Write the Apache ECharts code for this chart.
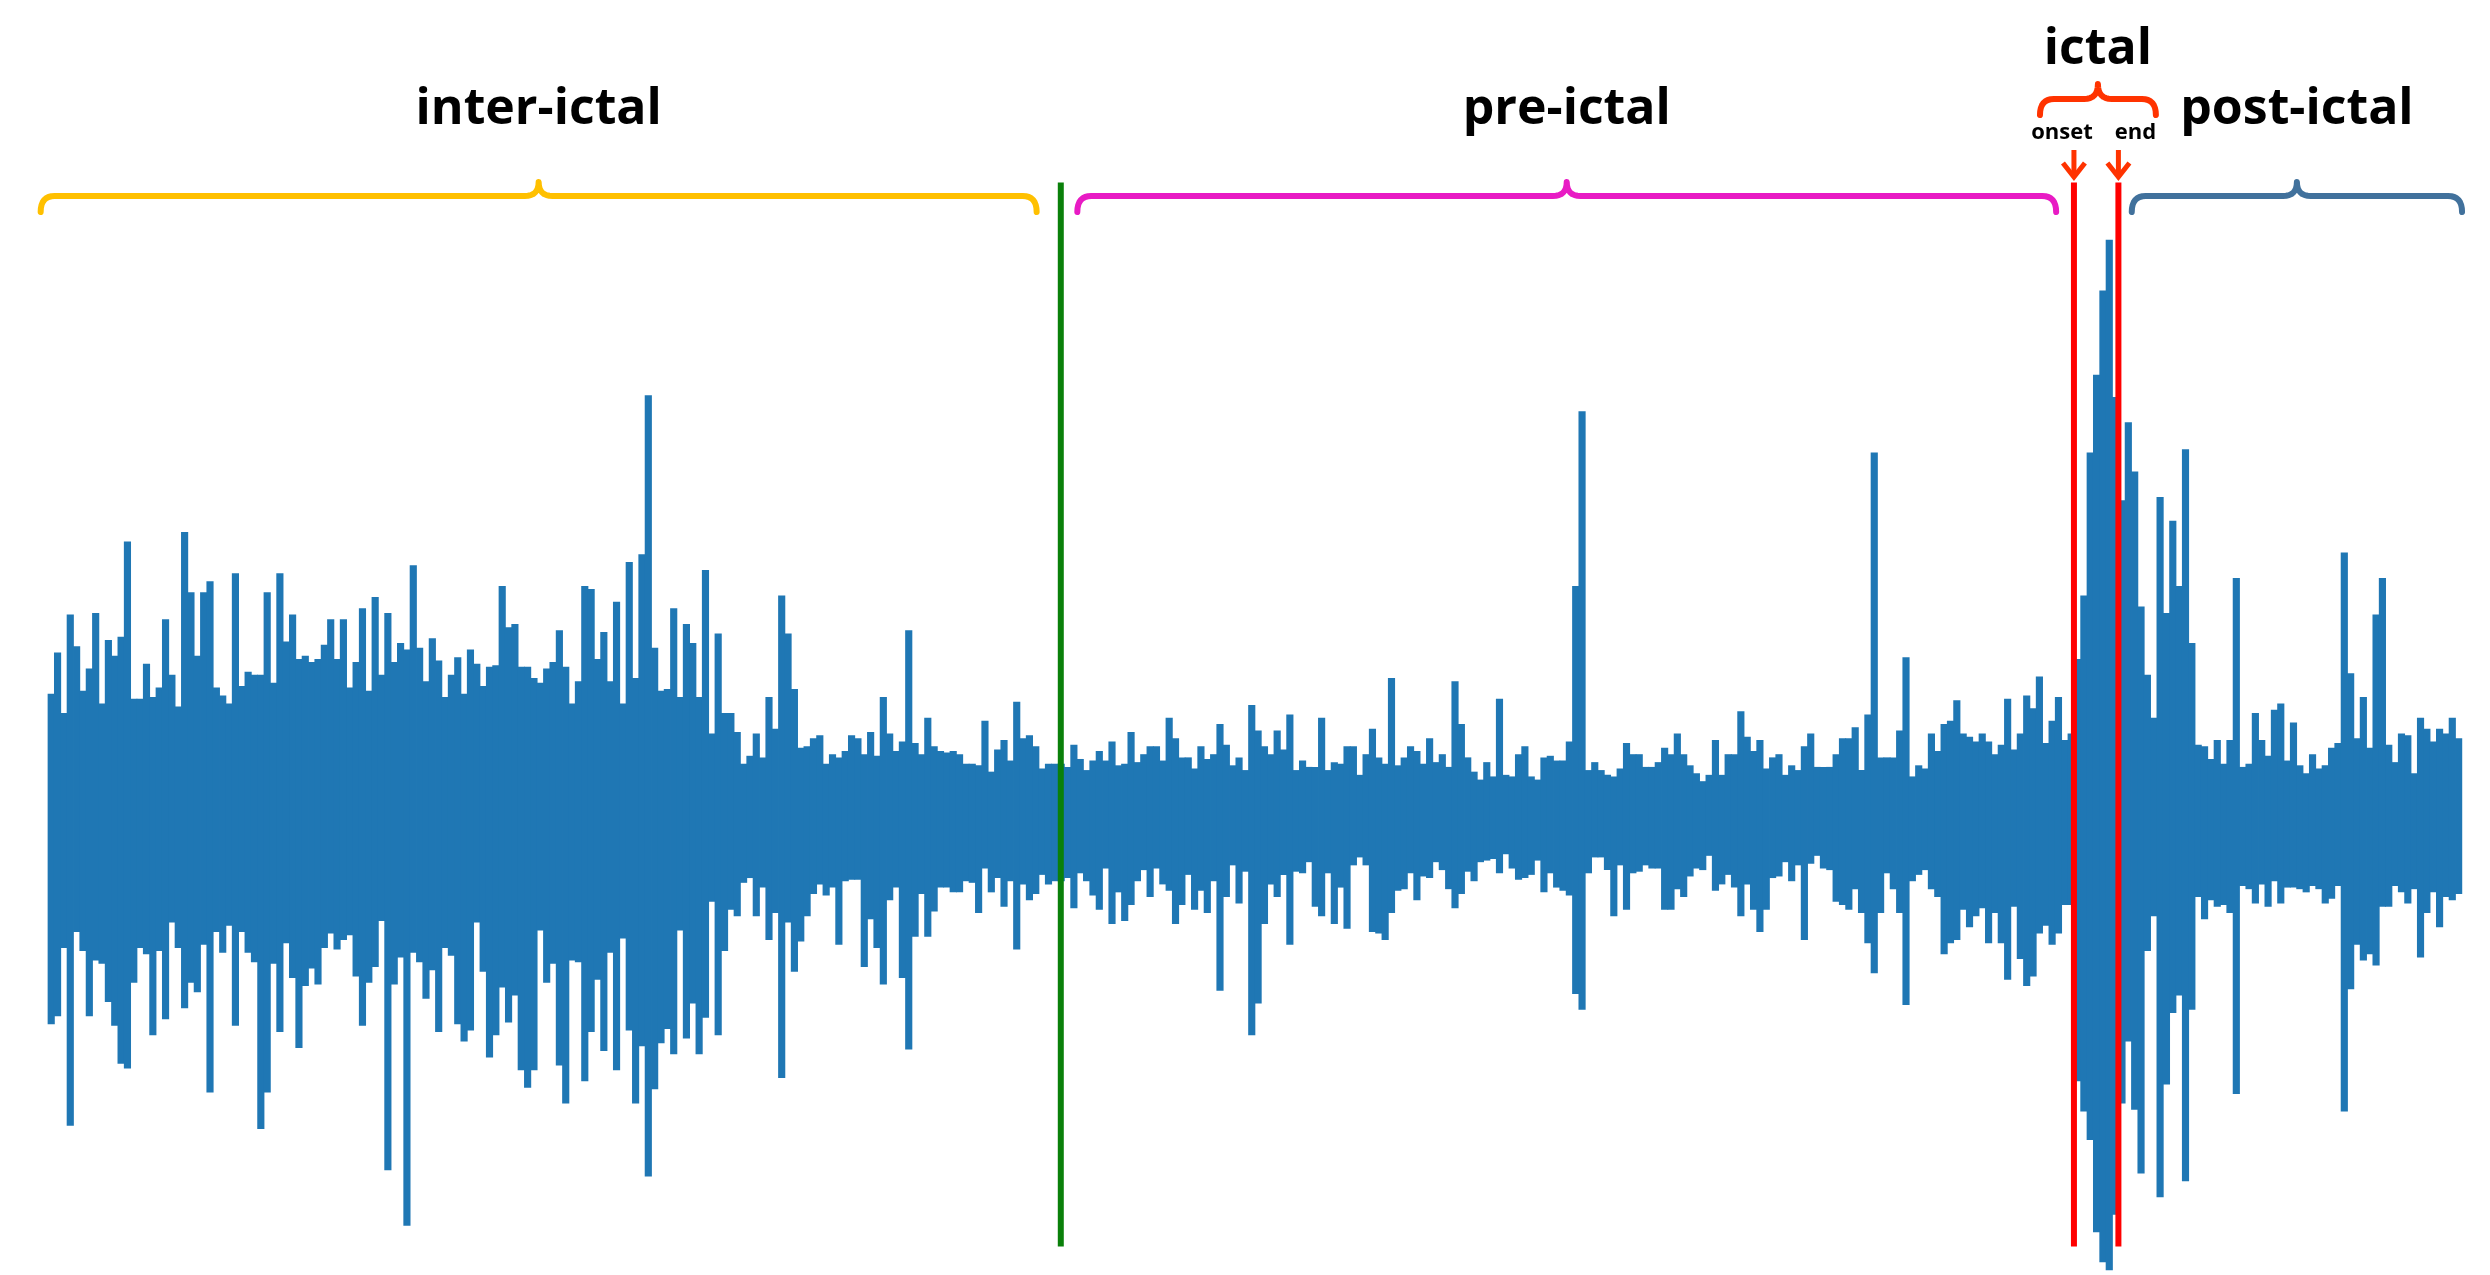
<!DOCTYPE html>
<html>
<head>
<meta charset="utf-8">
<script src="https://cdn.jsdelivr.net/npm/echarts@6/dist/echarts.min.js"></script>
<style>
html, body { margin: 0; padding: 0; background: #fff; }
#chart { width: 2490px; height: 1275px; }
</style>
</head>
<body>
<div id="chart"></div>
<script>
// trace envelope, one column per sample block: max and min amplitude
var sigHi = [
  78,104,66,128,108,80,94,129,72,112,102,114,174,75,75,97,76,82,125,90,
  70,180,142,102,142,149,82,77,72,154,83,92,90,90,142,85,154,111,128,100,
  102,98,100,109,125,100,125,82,98,132,80,139,90,129,98,110,106,159,107,86,
  113,99,76,90,
  101,78,106,97,83,95,96,146,120,122,95,95,88,85,94,98,118,95,72,86,
  146,144,100,117,86,136,72,161,88,166,266,107,80,81,132,76,122,110,76,156,
  53,116,66,66,54,34,39,53,38,76,56,140,116,81,44,45,50,52,34,40,
  38,42,52,50,40,54,39,76,53,42,48,118,47,40,63,45,42,41,42,40,
  34,34,33,61,29,43,49,36,73,50,52,45,31,34,34,
  34,32,46,37,30,36,42,36,48,33,34,54,35,40,45,45,36,63,50,38,
  38,31,45,37,40,59,46,33,38,30,71,55,45,40,55,43,65,30,36,32,
  32,63,30,35,34,45,45,27,40,56,38,34,88,33,38,45,42,34,50,35,
  40,32,86,59,38,29,24,35,26,75,27,26,40,45,26,24,38,39,36,36,
  48,146,256,30,35,30,27,26,31,47,40,40,32,32,35,44,
  40,53,40,33,28,23,27,49,27,40,40,67,51,42,49,31,38,40,27,33,
  30,45,53,32,32,32,40,50,50,57,30,65,230,38,38,38,55,101,26,33,
  31,53,42,59,61,74,53,51,48,53,48,40,46,75,43,53,77,69,89,47,
  61,76,49,53,
  100,140,230,279,332,364,265,200,249,218,133,90,63,202,129,187,146,232,110,46,
  45,37,49,34,49,151,32,34,66,49,39,68,72,36,60,33,28,40,31,33,
  44,47,167,91,50,76,44,128,151,46,35,53,52,28,63,56,48,56,53,63,
  50
];
var sigLo = [
  -130,-125,-82,-194,-72,-84,-125,-90,-92,-116,-131,-155,-158,-104,-82,-86,-137,-84,-127,-66,
  -82,-120,-104,-110,-80,-173,-72,-85,-68,-131,-72,-85,-91,-196,-173,-92,-135,-79,-101,-145,
  -106,-95,-105,-82,-73,-83,-77,-74,-100,-131,-104,-94,-65,-222,-105,-88,-257,-85,-91,-114,
  -96,-135,-82,-87,
  -130,-141,-134,-66,-97,-151,-137,-107,-129,-112,-159,-170,-159,-71,-104,-92,-156,-180,-90,-91,
  -166,-135,-102,-147,-85,-159,-76,-134,-180,-144,-226,-171,-142,-133,-149,-71,-139,-117,-149,-126,
  -53,-137,-84,-58,-62,-41,-38,-62,-44,-77,-60,-164,-66,-97,-78,-62,-48,-42,-49,-44,
  -80,-40,-39,-39,-94,-64,-82,-105,-52,-44,-101,-146,-75,-48,-75,-59,-44,-44,-47,-47,
  -40,-41,-60,-32,-47,-38,-56,-40,-83,-42,-52,-48,-36,-42,-40,
  -40,-38,-57,-35,-40,-49,-58,-32,-67,-47,-65,-55,-40,-33,-50,-32,-42,-46,-67,-55,
  -36,-58,-46,-60,-40,-109,-50,-30,-54,-34,-137,-117,-67,-42,-50,-36,-80,-34,-35,-28,
  -56,-62,-35,-67,-44,-70,-30,-25,-30,-72,-73,-77,-60,-46,-45,-35,-52,-37,-38,-28,
  -33,-45,-57,-48,-34,-40,-28,-27,-26,-35,-23,-32,-39,-38,-36,-27,-47,-35,-44,-46,
  -49,-111,-121,-35,-25,-25,-33,-62,-30,-58,-35,-34,-30,-32,-32,-58,
  -58,-45,-50,-37,-32,-33,-24,-46,-42,-36,-44,-62,-42,-58,-72,-58,-38,-37,-28,-40,
  -30,-77,-29,-24,-32,-33,-53,-55,-58,-45,-60,-79,-98,-60,-35,-45,-60,-118,-40,-36,
  -33,-45,-50,-86,-79,-77,-58,-69,-62,-57,-79,-60,-79,-102,-56,-89,-106,-100,-73,-68,
  -80,-73,-55,-55,
  -166,-185,-203,-261,-280,-285,-250,-180,-141,-184,-224,-84,-62,-239,-168,-123,-112,-229,-121,-50,
  -64,-52,-56,-55,-60,-174,-43,-45,-54,-42,-56,-40,-54,-44,-44,-45,-47,-43,-45,-54,
  -51,-43,-185,-108,-80,-90,-86,-93,-56,-56,-43,-47,-54,-45,-88,-60,-47,-69,-50,-52,
  -48
];

// phases, in sample-block units
var phaseNames = ['inter-ictal', 'pre-ictal', 'post-ictal'];
var phaseStart = [-1.1, 162.1, 328.1];
var phaseEnd = [155.7, 316.2, 380.1];
var preictalMark = 159.5;
var ictalMarks = [319, 326];
var ictalMarkNames = ['onset', 'end'];
var ictalBracket = [313.65, 331.9];

var phaseColors = ['#FFC000', '#E81BC4', '#41719C'];
var ictalColor = '#FF3300';
var font = '"Open Sans", "Liberation Sans", sans-serif';

var chart = echarts.init(document.getElementById('chart'));
var blocks = sigHi.map(function (h, i) { return [i, h, sigLo[i]]; });

function vline(x, color) {
    return {
        type: 'line',
        data: [[x, 400], [x, -270]],
        symbol: 'none',
        silent: true,
        z: 5,
        lineStyle: { color: color, width: 6 }
    };
}

chart.setOption({
    animation: false,
    grid: { left: 0, right: 0, top: 0, bottom: 0 },
    xAxis: { type: 'value', min: -7.5, max: 384.5, show: false },
    yAxis: { type: 'value', min: -288, max: 515, show: false },
    series: [
        {
            type: 'custom',
            data: blocks,
            encode: { x: 0, y: [1, 2] },
            clip: false,
            renderItem: function (params, api) {
                var a = api.coord([api.value(0), api.value(1)]);
                var b = api.coord([api.value(0) + 1, api.value(2)]);
                return {
                    type: 'rect',
                    shape: { x: a[0], y: a[1], width: b[0] - a[0] + 0.8, height: b[1] - a[1] },
                    style: { fill: '#1f77b4' }
                };
            }
        },
        vline(preictalMark, '#0A800A'),
        vline(ictalMarks[0], '#FF0000'),
        vline(ictalMarks[1], '#FF0000')
    ]
});

// curly brackets drawn as sampled quadratic curves
function quad(p0, p1, p2, n, out) {
    for (var k = 1; k <= n; k++) {
        var s = k / n;
        out.push([
            (1 - s) * (1 - s) * p0[0] + 2 * (1 - s) * s * p1[0] + s * s * p2[0],
            (1 - s) * (1 - s) * p0[1] + 2 * (1 - s) * s * p1[1] + s * s * p2[1]
        ]);
    }
}
function bracePoints(x0, x1, yb, d, c, r) {
    var xc = (x0 + x1) / 2;
    var pts = [[x0, yb + d]];
    quad([x0, yb + d], [x0, yb], [x0 + r, yb], 8, pts);
    pts.push([xc - r, yb]);
    quad([xc - r, yb], [xc, yb], [xc, yb - c], 8, pts);
    quad([xc, yb - c], [xc, yb], [xc + r, yb], 8, pts);
    pts.push([x1 - r, yb]);
    quad([x1 - r, yb], [x1, yb], [x1, yb + d], 8, pts);
    return pts;
}
function px(v) { return chart.convertToPixel({ xAxisIndex: 0 }, v); }
function label(text, x, y, size, color) {
    return {
        type: 'text', x: x, y: y, z: 10,
        style: {
            text: text, fill: color || '#000', font: 'bold ' + size + 'px ' + font,
            textAlign: 'center', textVerticalAlign: 'middle', align: 'center', verticalAlign: 'middle'
        }
    };
}

var gfx = [];
phaseNames.forEach(function (name, k) {
    var x0 = px(phaseStart[k]), x1 = px(phaseEnd[k]);
    gfx.push({
        type: 'polyline', z: 10,
        shape: { points: bracePoints(x0, x1, 196, 16, 14, 14) },
        style: { stroke: phaseColors[k], lineWidth: 6, fill: null, lineJoin: 'round', lineCap: 'round' }
    });
    gfx.push(label(name, (x0 + x1) / 2, 110, 50));
});

var b0 = px(ictalBracket[0]), b1 = px(ictalBracket[1]);
gfx.push({
    type: 'polyline', z: 10,
    shape: { points: bracePoints(b0, b1, 99, 16, 15, 14) },
    style: { stroke: ictalColor, lineWidth: 6, fill: null, lineJoin: 'round', lineCap: 'round' }
});
gfx.push(label('ictal', (b0 + b1) / 2, 50, 50));

var labelShift = [-12, 17];
ictalMarks.forEach(function (m, k) {
    var x = px(m);
    gfx.push({
        type: 'polyline', z: 10,
        shape: { points: [[x, 150], [x, 176]] },
        style: { stroke: ictalColor, lineWidth: 5, fill: null }
    });
    gfx.push({
        type: 'polyline', z: 10,
        shape: { points: [[x - 11, 163], [x, 177], [x + 11, 163]] },
        style: { stroke: ictalColor, lineWidth: 5, fill: null, lineJoin: 'miter' }
    });
    gfx.push(label(ictalMarkNames[k], x + labelShift[k], 133, 22));
});

chart.setOption({ graphic: { elements: gfx } });
</script>
</body>
</html>
